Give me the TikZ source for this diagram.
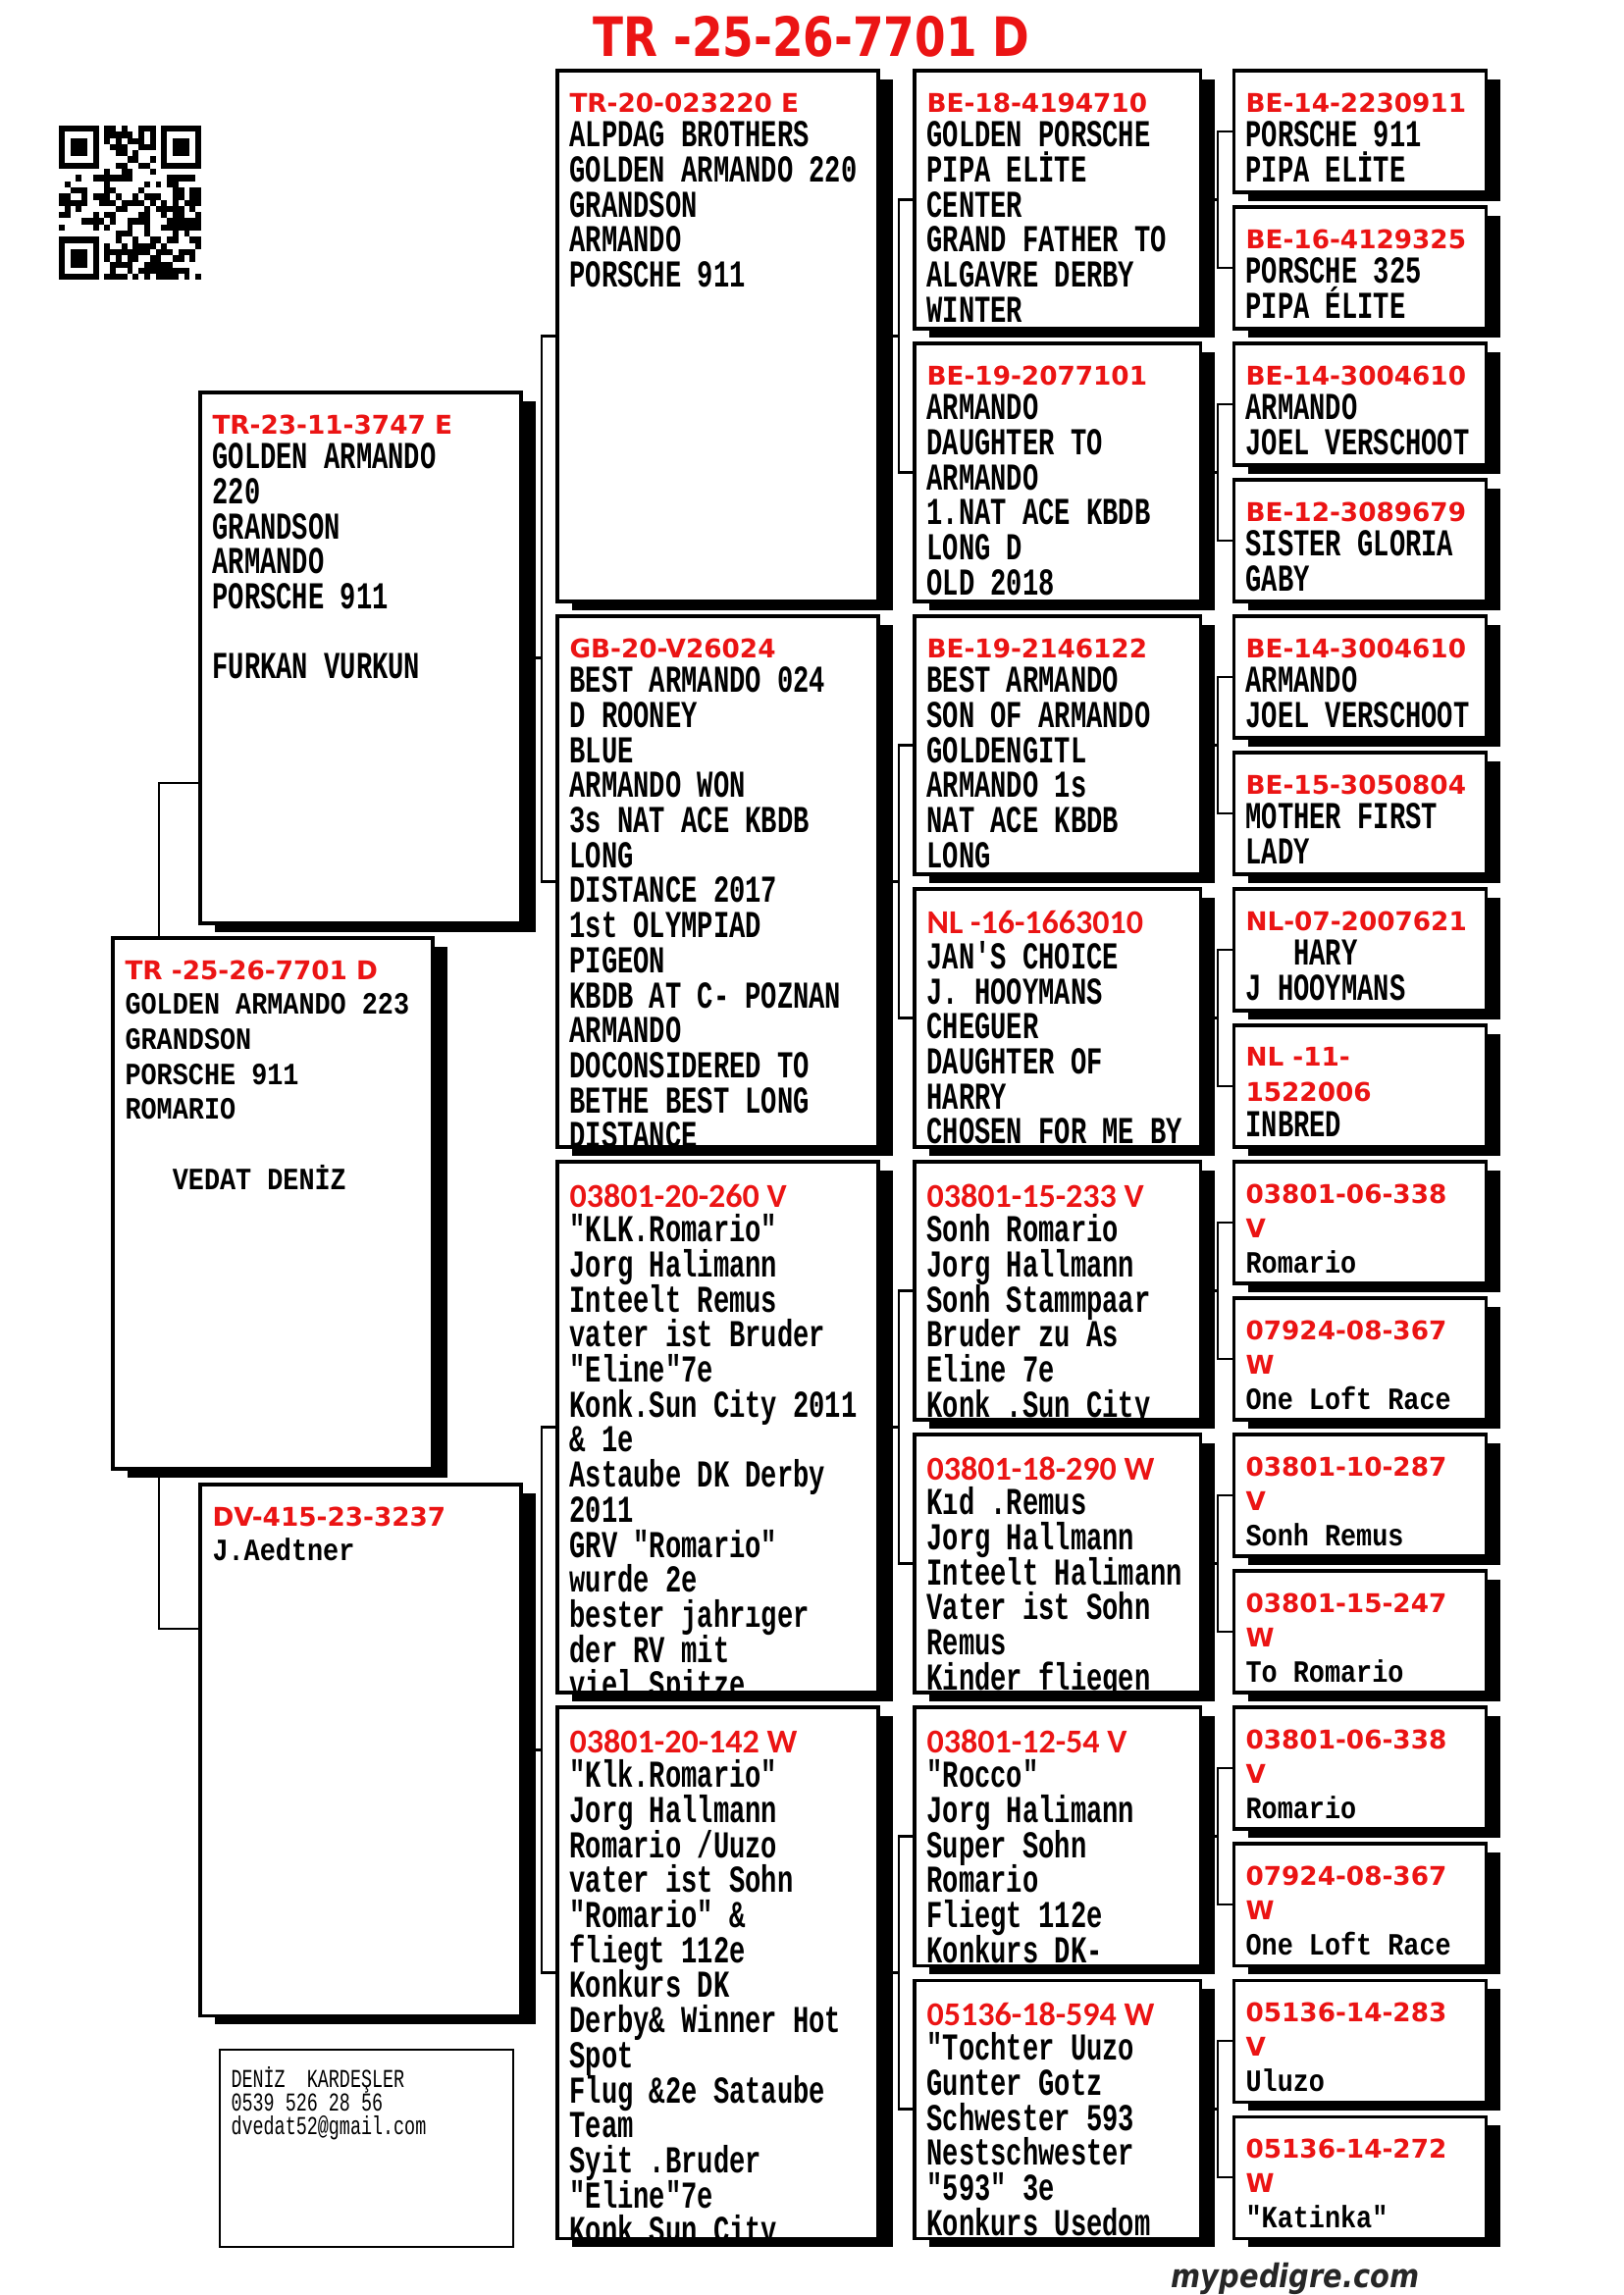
\documentclass[tikz,border=0pt]{standalone}
\usepackage{fontspec}
\usepackage{tikz}
\usetikzlibrary{calc}
\usetikzlibrary{fit}

\newfontfamily\tallmono{Liberation Mono}[FakeStretch=0.7]
\newfontfamily\widemono{Liberation Mono}[FakeStretch=0.85]
\newfontfamily\ringwide{DejaVu Sans}
\newfontfamily\ringslim{Carlito}
\newfontfamily\headfont{DejaVu Sans}[FakeStretch=0.82]
\newfontfamily\sitefont{DejaVu Sans}[FakeStretch=0.87]
\definecolor{ringred}{RGB}{235,20,20}

\newcommand\ring[1]{{\ringwide\bfseries\fontsize{9.5pt}{12.9pt}\selectfont\color{ringred}#1}}
\newcommand\rings[1]{{\ringslim\bfseries\fontsize{12.3pt}{12.9pt}\selectfont\color{ringred}#1}}

% box with shadow: [text style]{name}{x1}{y1}{x2}{y2}{lines}
\newcommand\pedbox[7][talltext]{%
  \fill[pshadow] (#3+15,#4+9) rectangle (#5+15,#6+9);
  \node[pbox, fit={(#3,#4) (#5,#6)}] (#2) {};
  \begin{scope}
    \clip (#2.north west) rectangle (#2.south east);
    \node[#1] at (#3+12,#4+22) {#7};
  \end{scope}
  \draw[pline] (#2.north west) rectangle (#2.south east);
}
% bracket from a bird to its two parents
\newcommand\pedlink[3]{%
  \draw[link] (#2.west) -- ++(-16,0) |- (#3.west);
  \draw[link] (#1.east) -- ($(#1.east -| #2.west)+(-16,0)$);
}

\begin{document}
\begin{tikzpicture}[x=0.127mm, y=-0.127mm,
    pshadow/.style={fill=black},
    pbox/.style={fill=white, inner sep=0pt, outer sep=0pt},
    pline/.style={line width=1.1pt},
    link/.style={line width=0.75pt},
    ptext/.style={anchor=north west, align=left, inner sep=0pt,
      execute at begin node={\rule{0pt}{10pt}}},
    talltext/.style={ptext, font={\tallmono\bfseries\fontsize{14pt}{12.9pt}\selectfont\lineskiplimit=-6pt}},
    widetext/.style={ptext, font={\widemono\bfseries\fontsize{11.4pt}{12.9pt}\selectfont\lineskiplimit=-6pt}},
    headline/.style={anchor=base, text=ringred, font={\headfont\bfseries\fontsize{20pt}{24pt}\selectfont}}
  ]
\useasboundingbox (0,0) rectangle (1654,2339);

\node[headline] (title) at (827,58) {TR -25-26-7701 D};

% qr code
\pgfmathsetseed{52}
\foreach \i in {0,...,24}
  \foreach \j in {0,...,24}{
    \pgfmathsetmacro\q{rnd}
    \ifdim\q pt<0.48pt \fill (60+5.8*\i,128+6.3*\j) rectangle ++(5.8,6.3); \fi
  }
\foreach \fx/\fy in {0/0,18/0,0/18}{
  \fill[white] (60+5.8*\fx-5.8,128+6.3*\fy-6.3) rectangle ++(5.8*9,6.3*9);
  \fill (60+5.8*\fx,128+6.3*\fy) rectangle ++(5.8*7,6.3*7);
  \fill[white] (60+5.8*\fx+5.8,128+6.3*\fy+6.3) rectangle ++(5.8*5,6.3*5);
  \fill (60+5.8*\fx+11.6,128+6.3*\fy+12.6) rectangle ++(5.8*3,6.3*3);
}

% bird and parents
\pedbox[widetext]{subj}{115}{956}{441}{1497}{\ring{TR -25-26-7701 D}\\GOLDEN ARMANDO 223\\GRANDSON\\PORSCHE 911\\ROMARIO\\ \\\phantom{000}VEDAT DENİZ}
\pedbox{s}{204}{400}{531}{941}{\ring{TR-23-11-3747 E}\\GOLDEN ARMANDO\\220\\GRANDSON\\ARMANDO\\PORSCHE 911\\ \\FURKAN VURKUN}
\pedbox[widetext]{d}{204}{1513}{531}{2054}{\ring{DV-415-23-3237}\\J.Aedtner}

% grandparents
\pedbox{ss}{568}{72}{895}{613}{\ring{TR-20-023220 E}\\ALPDAG BROTHERS\\GOLDEN ARMANDO 220\\GRANDSON\\ARMANDO\\PORSCHE 911}
\pedbox{sd}{568}{628}{895}{1169}{\ring{GB-20-V26024}\\BEST ARMANDO 024\\D ROONEY\\BLUE\\ARMANDO WON\\3s NAT ACE KBDB\\LONG\\DISTANCE 2017\\1st OLYMPIAD\\PIGEON\\KBDB AT C- POZNAN\\ARMANDO\\DOCONSIDERED TO\\BETHE BEST LONG\\DISTANCE}
\pedbox{ds}{568}{1184}{895}{1725}{\rings{03801-20-260 V}\\"KLK.Romario"\\Jorg Halimann\\Inteelt Remus\\vater ist Bruder\\"Eline"7e\\Konk.Sun City 2011\\\& 1e\\Astaube DK Derby\\2011\\GRV "Romario"\\wurde 2e\\bester jahrıger\\der RV mit\\viel Spitze}
\pedbox{dd}{568}{1740}{895}{2281}{\rings{03801-20-142 W}\\"Klk.Romario"\\Jorg Hallmann\\Romario /Uuzo\\vater ist Sohn\\"Romario" \&\\fliegt 112e\\Konkurs DK\\Derby\& Winner Hot\\Spot\\Flug \&2e Sataube\\Team\\Syit .Bruder\\"Eline"7e\\Konk Sun City}

% great-grandparents
\pedbox{sss}{932}{72}{1223}{335}{\ring{BE-18-4194710}\\GOLDEN PORSCHE\\PIPA ELİTE\\CENTER\\GRAND FATHER TO\\ALGAVRE DERBY\\WINTER}
\pedbox{ssd}{932}{350}{1223}{613}{\ring{BE-19-2077101}\\ARMANDO\\DAUGHTER TO\\ARMANDO\\1.NAT ACE KBDB\\LONG D\\OLD 2018}
\pedbox{sds}{932}{628}{1223}{891}{\ring{BE-19-2146122}\\BEST ARMANDO\\SON OF ARMANDO\\GOLDENGITL\\ARMANDO 1s\\NAT ACE KBDB\\LONG}
\pedbox{sdd}{932}{906}{1223}{1169}{\rings{NL -16-1663010}\\JAN'S CHOICE\\J. HOOYMANS\\CHEGUER\\DAUGHTER OF\\HARRY\\CHOSEN FOR ME BY}
\pedbox{dss}{932}{1184}{1223}{1447}{\rings{03801-15-233 V}\\Sonh Romario\\Jorg Hallmann\\Sonh Stammpaar\\Bruder zu As\\Eline 7e\\Konk .Sun City}
\pedbox{dsd}{932}{1462}{1223}{1725}{\rings{03801-18-290 W}\\Kıd .Remus\\Jorg Hallmann\\Inteelt Halimann\\Vater ist Sohn\\Remus\\Kinder fliegen}
\pedbox{dds}{932}{1740}{1223}{2003}{\rings{03801-12-54 V}\\"Rocco"\\Jorg Halimann\\Super Sohn\\Romario\\Fliegt 112e\\Konkurs DK-}
\pedbox{ddd}{932}{2018}{1223}{2281}{\rings{05136-18-594 W}\\"Tochter Uuzo\\Gunter Gotz\\Schwester 593\\Nestschwester\\"593" 3e\\Konkurs Usedom}

% great-great-grandparents
\pedbox{ssss}{1257}{72}{1514}{196}{\ring{BE-14-2230911}\\PORSCHE 911\\PIPA ELİTE}
\pedbox{sssd}{1257}{211}{1514}{335}{\ring{BE-16-4129325}\\PORSCHE 325\\PIPA ÉLITE}
\pedbox{ssds}{1257}{350}{1514}{474}{\ring{BE-14-3004610}\\ARMANDO\\JOEL VERSCHOOT}
\pedbox{ssdd}{1257}{489}{1514}{613}{\ring{BE-12-3089679}\\SISTER GLORIA\\GABY}
\pedbox{sdss}{1257}{628}{1514}{752}{\ring{BE-14-3004610}\\ARMANDO\\JOEL VERSCHOOT}
\pedbox{sdsd}{1257}{767}{1514}{891}{\ring{BE-15-3050804}\\MOTHER FIRST\\LADY}
\pedbox{sdds}{1257}{906}{1514}{1030}{\ring{NL-07-2007621}\\\phantom{000}HARY\\J HOOYMANS}
\pedbox{sddd}{1257}{1045}{1514}{1169}{\ring{NL -11-}\\\ring{1522006}\\INBRED}
\pedbox[widetext]{dsss}{1257}{1184}{1514}{1308}{\ring{03801-06-338}\\\ring{V}\\Romario}
\pedbox[widetext]{dssd}{1257}{1323}{1514}{1447}{\ring{07924-08-367}\\\ring{W}\\One Loft Race}
\pedbox[widetext]{dsds}{1257}{1462}{1514}{1586}{\ring{03801-10-287}\\\ring{V}\\Sonh Remus}
\pedbox[widetext]{dsdd}{1257}{1601}{1514}{1725}{\ring{03801-15-247}\\\ring{W}\\To Romario}
\pedbox[widetext]{ddss}{1257}{1740}{1514}{1864}{\ring{03801-06-338}\\\ring{V}\\Romario}
\pedbox[widetext]{ddsd}{1257}{1879}{1514}{2003}{\ring{07924-08-367}\\\ring{W}\\One Loft Race}
\pedbox[widetext]{ddds}{1257}{2018}{1514}{2142}{\ring{05136-14-283}\\\ring{V}\\Uluzo}
\pedbox[widetext]{dddd}{1257}{2157}{1514}{2281}{\ring{05136-14-272}\\\ring{W}\\"Katinka"}

% connectors
\coordinate (sj) at (162,798);
\coordinate (dj) at (162,1660);
\draw[link] (subj.north -| sj) -- (sj) -- (sj -| s.west);
\draw[link] (subj.south -| dj) -- (dj) -- (dj -| d.west);
\foreach \c in {s,d,ss,sd,ds,dd,sss,ssd,sds,sdd,dss,dsd,dds,ddd}
  \pedlink{\c}{\c s}{\c d};

% breeder
\node[draw, line width=0.8pt, inner sep=0pt, fit={(224,2089) (523,2290)}] (owner) {};
\node[anchor=north west, align=left, inner sep=0pt, execute at begin node={\rule{0pt}{6pt}},
  font={\tallmono\fontsize{9.5pt}{8.7pt}\selectfont\lineskiplimit=-6pt}] (ownertext) at (235,2106) {DENİZ\ \ KARDEŞLER\\0539 526 28 56\\dvedat52@gmail.com};

\node[anchor=base, text=black!85, font={\sitefont\bfseries\itshape\fontsize{12pt}{14pt}\selectfont}] (site) at (1320,2331) {mypedigre.com};
\end{tikzpicture}
\end{document}
